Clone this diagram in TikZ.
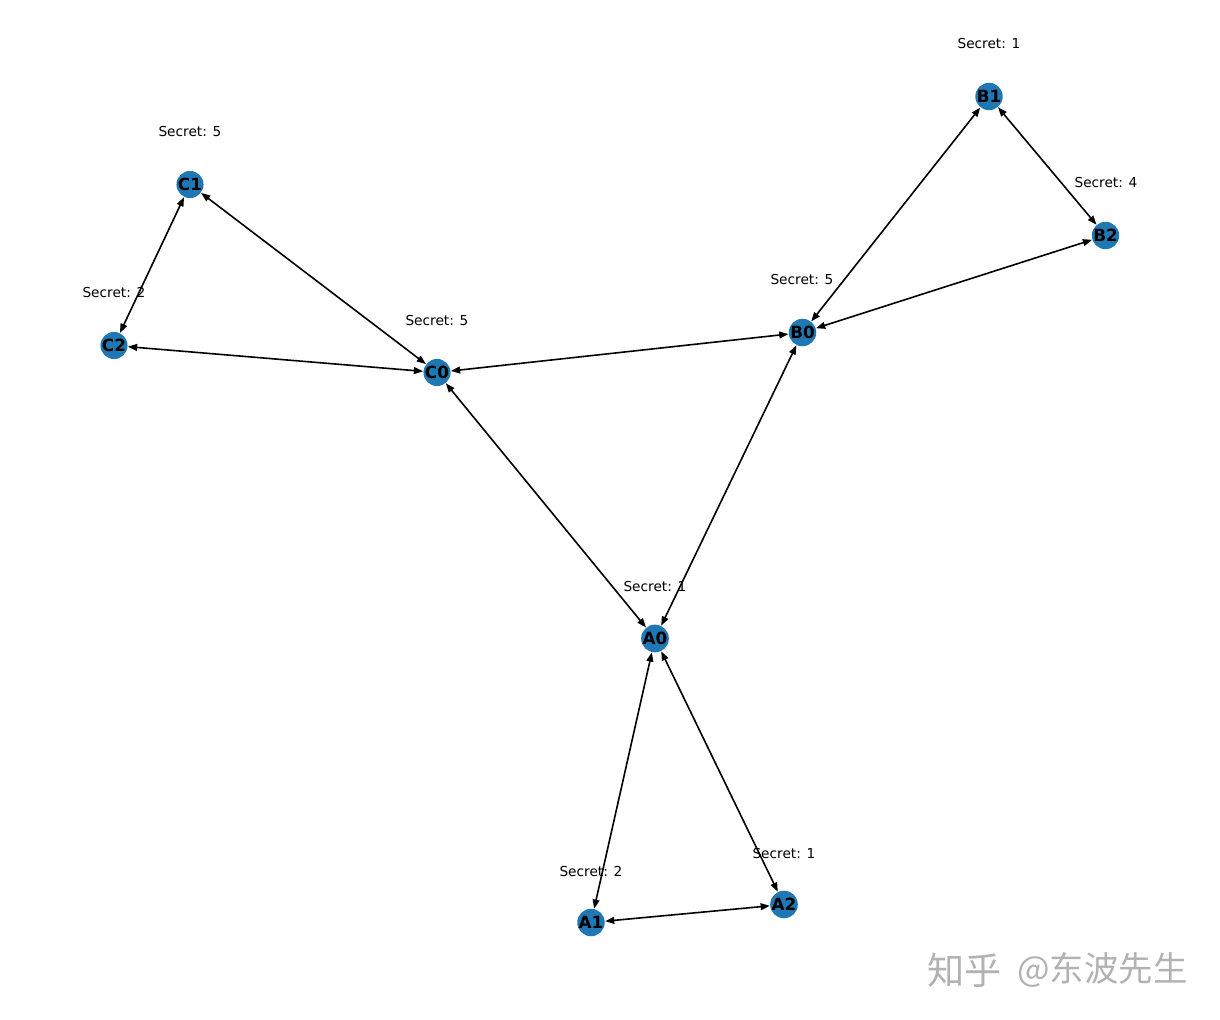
\documentclass[tikz,border=0pt]{standalone}
\usepackage{fontspec}
\usetikzlibrary{arrows.meta}
\setmainfont{DejaVu Sans}
\newfontfamily\cjkfont{Noto Sans CJK SC}
\definecolor{nodeblue}{HTML}{1F77B4}
\begin{document}
\begin{tikzpicture}[>={Triangle[length=4.6pt,width=3.4pt]}, x=0.5pt, y=-0.5pt]
        \tikzset{
            peer/.style={circle,fill=nodeblue,inner sep=0pt,minimum size=13pt,font=\fontsize{8.4}{9}\selectfont\bfseries},
            secret/.style={inner sep=0pt,font=\fontsize{6.85}{8.5}\selectfont},
            link/.style={<->,line width=0.8pt,black},
            mark text/.style={inner sep=0pt,text=black!30,font=\cjkfont}
        }
        \useasboundingbox (0,0) rectangle (1220,1019);

        \node[peer] (A0) at (655,638.5) {A0};
        \node[peer] (A1) at (591,922.5) {A1};
        \node[peer] (A2) at (784,904.5) {A2};
        \node[peer] (B0) at (802.5,332.5) {B0};
        \node[peer] (B1) at (989,96.5)  {B1};
        \node[peer] (B2) at (1105.5,235.5) {B2};
        \node[peer] (C0) at (437,372.5) {C0};
        \node[peer] (C1) at (190,184.5) {C1};
        \node[peer] (C2) at (114,345.5) {C2};

        \draw[link] (A0) to (A1);
        \draw[link] (A0) to (A2);
        \draw[link] (A1) to (A2);
        \draw[link] (B0) to (B1);
        \draw[link] (B0) to (B2);
        \draw[link] (B1) to (B2);
        \draw[link] (C0) to (C1);
        \draw[link] (C0) to (C2);
        \draw[link] (C1) to (C2);
        \draw[link] (A0) to (B0);
        \draw[link] (A0) to (C0);
        \draw[link] (B0) to (C0);

        \node[secret] (secretA0) at (655,586) {Secret: 1};
        \node[secret] (secretA1) at (591,871) {Secret: 2};
        \node[secret] (secretA2) at (784,853) {Secret: 1};
        \node[secret] (secretB0) at (802,280) {Secret: 5};
        \node[secret] (secretB1) at (989,44)  {Secret: 1};
        \node[secret] (secretB2) at (1106,183) {Secret: 4};
        \node[secret] (secretC0) at (437,321) {Secret: 5};
        \node[secret] (secretC1) at (190,132) {Secret: 5};
        \node[secret] (secretC2) at (114,293) {Secret: 2};

        \node[mark text,anchor=east,font=\fontsize{18.6}{20}\selectfont\cjkfont] (zhihu) at (1002,970) {知乎};
        \node[mark text,anchor=west,font=\fontsize{17.2}{20}\selectfont\cjkfont] (author) at (1017,970) {@东波先生};
        \end{tikzpicture}
\end{document}
